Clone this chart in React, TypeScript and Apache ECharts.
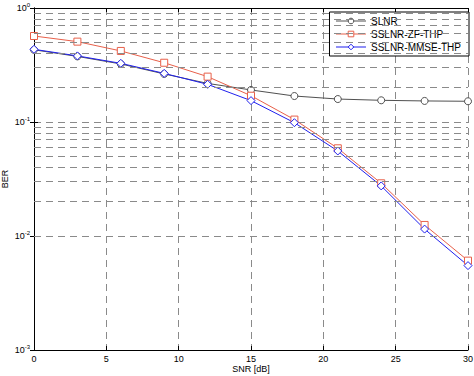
import React, { useEffect, useRef } from "react";
import * as echarts from "echarts";

const snr = [0, 3, 6, 9, 12, 15, 18, 21, 24, 27, 30];
const slnr = [0.43, 0.376, 0.323, 0.264, 0.218, 0.191, 0.169, 0.159, 0.155, 0.153, 0.152];
const zfThp = [0.568, 0.507, 0.42, 0.331, 0.25, 0.17, 0.105, 0.0588, 0.029, 0.0125, 0.00608];
const mmseThp = [0.434, 0.38, 0.327, 0.267, 0.214, 0.154, 0.0986, 0.0557, 0.0275, 0.0115, 0.0055];
const minorLevels = [
  0.002, 0.003, 0.004, 0.005, 0.006, 0.007, 0.008, 0.009,
  0.02, 0.03, 0.04, 0.05, 0.06, 0.07, 0.08, 0.09,
  0.2, 0.3, 0.4, 0.5, 0.6, 0.7, 0.8, 0.9,
];

const FONT = "Liberation Sans, Arial, sans-serif";
const GRID_COLOR = "#8a8a8a";
const DASH = [7, 5];
const COLORS: Record<string, string> = {
  "SLNR": "#505050",
  "SSLNR-ZF-THP": "#e8604a",
  "SSLNR-MMSE-THP": "#2020ee",
};

export default function App() {
  const ref = useRef<HTMLDivElement>(null);
  useEffect(() => {
    const chart = echarts.init(ref.current!, null, { renderer: "svg" });
    const pair = (ys: number[]) => snr.map((x, i) => [x, ys[i]]);
    const lineSeries = (name: string, ys: number[], symbol: string, size: number) => ({
      name,
      type: "line",
      data: pair(ys),
      symbol,
      symbolSize: size,
      showAllSymbol: true,
      z: 3,
      lineStyle: { color: COLORS[name], width: 1 },
      itemStyle: { color: "#fff", borderColor: COLORS[name], borderWidth: 1 },
      emphasis: { disabled: true },
    });
    chart.setOption({
      animation: false,
      textStyle: { fontFamily: FONT },
      grid: { left: 34, right: 6, top: 8, bottom: 26, containLabel: false, outerBoundsMode: "none" },
      legend: {
        data: Object.keys(COLORS).map((n) => ({
          name: n,
          itemStyle: { color: "#fff", borderColor: COLORS[n], borderWidth: 1 },
          lineStyle: { color: COLORS[n], width: 1 },
        })),
        orient: "vertical",
        right: 5,
        top: 12,
        backgroundColor: "#fff",
        borderColor: "#000",
        borderWidth: 1,
        borderRadius: 0,
        padding: [4, 8, 4, 6],
        itemGap: 3,
        itemWidth: 30,
        itemHeight: 7,
        textStyle: { fontSize: 10, color: "#000", fontFamily: FONT },
      },
      xAxis: [
        {
          type: "value",
          min: 0,
          max: 30,
          interval: 5,
          name: "SNR [dB]",
          nameLocation: "middle",
          nameGap: 14,
          nameMoveOverlap: false,
          nameTextStyle: { fontSize: 9, color: "#000" },
          axisLine: { lineStyle: { color: "#000", width: 1 } },
          axisTick: { inside: true, length: 4, lineStyle: { color: "#000" } },
          axisLabel: { fontSize: 9, color: "#000", margin: 4 },
          splitLine: { show: true, lineStyle: { color: GRID_COLOR, type: DASH, width: 1 } },
        },
        {
          type: "value",
          position: "top",
          min: 0,
          max: 30,
          interval: 5,
          axisLine: { show: true, lineStyle: { color: "#000", width: 1 } },
          axisTick: { inside: true, length: 4, lineStyle: { color: "#000" } },
          axisLabel: { show: false },
          splitLine: { show: false },
        },
      ],
      yAxis: [
        {
          type: "log",
          logBase: 10,
          min: 0.001,
          max: 1,
          name: "BER",
          nameLocation: "middle",
          nameGap: 25,
          nameMoveOverlap: false,
          nameTextStyle: { fontSize: 9, color: "#000" },
          axisLine: { show: true, lineStyle: { color: "#000", width: 1 } },
          axisTick: { inside: true, length: 4, lineStyle: { color: "#000" } },
          axisLabel: {
            fontSize: 9,
            color: "#000",
            margin: 4,
            formatter: (v: number) => "10{s|" + Math.round(Math.log10(v)) + "}",
            rich: { s: { fontSize: 6, verticalAlign: "top", padding: [0, 0, 7, 0], color: "#000" } },
          },
          splitLine: { show: true, lineStyle: { color: GRID_COLOR, type: DASH, width: 1 } },
        },
        {
          type: "log",
          logBase: 10,
          min: 0.001,
          max: 1,
          position: "right",
          axisLine: { show: true, lineStyle: { color: "#000", width: 1 } },
          axisTick: { inside: true, length: 4, lineStyle: { color: "#000" } },
          axisLabel: { show: false },
          splitLine: { show: false },
        },
      ],
      series: [
        {
          name: "minorGrid",
          type: "line",
          data: [],
          z: 1,
          silent: true,
          markLine: {
            silent: true,
            symbol: "none",
            label: { show: false },
            lineStyle: { color: GRID_COLOR, type: DASH, width: 1 },
            data: minorLevels.map((v) => ({ yAxis: v })),
          },
        },
        lineSeries("SLNR", slnr, "circle", 7),
        lineSeries("SSLNR-ZF-THP", zfThp, "rect", 7),
        lineSeries("SSLNR-MMSE-THP", mmseThp, "diamond", 8),
      ],
    });
    return () => chart.dispose();
  }, []);
  return <div ref={ref} style={{ width: 474, height: 376, position: "absolute", left: 0, top: 0, background: "#fff" }} />;
}
